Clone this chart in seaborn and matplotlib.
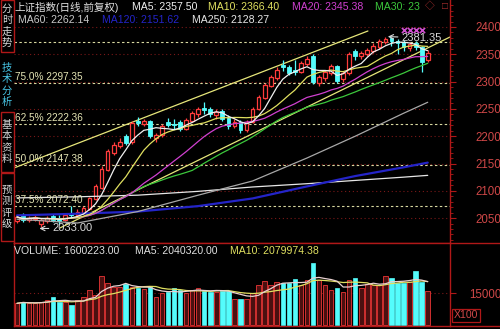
import numpy as np
import pandas as pd
import matplotlib
matplotlib.use("Agg")
import matplotlib.pyplot as plt
import seaborn as sns
from matplotlib.patches import Rectangle

# ---------------- data ----------------
opens = [2044, 2056, 2046, 2048, 2040, 2045, 2054, 2050, 2046, 2060,
         2056, 2060, 2066, 2085, 2106, 2138, 2170, 2182, 2200, 2190,
         2228, 2222, 2228, 2196, 2202, 2226, 2222, 2226, 2214, 2228,
         2240, 2252, 2250, 2238, 2246, 2234, 2218, 2226, 2212, 2226,
         2250, 2270, 2292, 2306, 2330, 2326, 2322, 2318, 2332, 2346,
         2298, 2306, 2316, 2328, 2304, 2316, 2356, 2346, 2350, 2356,
         2364, 2372, 2380, 2374, 2372, 2362, 2370, 2364, 2340]
closes = [2052, 2046, 2050, 2052, 2046, 2050, 2046, 2045, 2056, 2056,
          2062, 2068, 2086, 2108, 2140, 2172, 2184, 2190, 2188, 2224,
          2224, 2228, 2200, 2202, 2218, 2220, 2220, 2214, 2230, 2242,
          2250, 2248, 2240, 2244, 2232, 2218, 2226, 2212, 2226, 2250,
          2272, 2294, 2308, 2322, 2326, 2316, 2318, 2334, 2342, 2300,
          2308, 2318, 2328, 2302, 2316, 2350, 2346, 2352, 2358, 2366,
          2374, 2378, 2374, 2370, 2364, 2368, 2364, 2335, 2352]
highs = [2056, 2060, 2054, 2056, 2050, 2053, 2058, 2056, 2060, 2072,
         2066, 2072, 2089, 2112, 2145, 2176, 2190, 2196, 2204, 2228,
         2236, 2232, 2230, 2206, 2222, 2234, 2232, 2230, 2234, 2246,
         2254, 2262, 2254, 2250, 2250, 2238, 2232, 2230, 2230, 2254,
         2276, 2298, 2313, 2326, 2340, 2330, 2340, 2338, 2346, 2350,
         2312, 2322, 2332, 2330, 2320, 2354, 2360, 2356, 2362, 2370,
         2378, 2381.35, 2381, 2378, 2376, 2372, 2374, 2366, 2358]
lows = [2041, 2043, 2043, 2044, 2033, 2041, 2042, 2040, 2044, 2052,
        2053, 2058, 2064, 2083, 2104, 2136, 2166, 2178, 2184, 2186,
        2218, 2218, 2196, 2190, 2198, 2216, 2214, 2210, 2212, 2226,
        2236, 2240, 2236, 2232, 2228, 2214, 2215, 2206, 2208, 2224,
        2248, 2268, 2290, 2303, 2320, 2312, 2312, 2315, 2328, 2296,
        2292, 2302, 2312, 2298, 2300, 2312, 2340, 2342, 2346, 2352,
        2360, 2368, 2366, 2350, 2356, 2356, 2358, 2317, 2336]
volumes = [10170, 10940, 10170, 10170, 10940, 11720, 13280, 10940, 10940, 9375,
           11720, 13280, 16400, 14060, 22970, 19530, 17970, 17970, 19060, 17970,
           17190, 16720, 17660, 13280, 14840, 15620, 17190, 16400, 14840, 16400,
           17190, 16090, 15620, 15620, 16090, 16090, 12030, 12030, 12030, 14840,
           18750, 20620, 18750, 20310, 19530, 19530, 21410, 18750, 21090, 29220,
           21090, 18750, 16400, 17190, 15620, 21090, 21870, 17190, 19060, 18750,
           18750, 22970, 21870, 19530, 19530, 20310, 25500, 20310, 16002]

# long moving averages read at sample candles
ma_sample_idx = [0, 10, 20, 30, 39, 48, 56, 64, 68]
ma60_vals = [2048, 2041, 2062, 2092, 2118, 2160, 2200, 2242, 2262.14]
ma120_vals = [2055, 2058, 2062, 2072, 2086, 2108, 2127, 2143, 2151.62]
ma250_vals = [2087, 2089, 2092, 2099, 2107, 2113, 2119, 2125, 2128.27]

fib_levels = [2072.40, 2147.38, 2222.36, 2297.35, 2372.33]
fib_labels = ["37.5% 2072.40", "50.0% 2147.38", "62.5% 2222.36", "75.0% 2297.35", ""]

price_ticks = [2050, 2100, 2150, 2200, 2250, 2300, 2350, 2400]
vol_ticks = [15000]

upper_channel_idx = [-0.5, 58.1]
upper_channel_val = [2141.8, 2392.7]
lower_channel_idx = [7.1, 71.7]
lower_channel_val = [2031.9, 2381.7]

signal_idx = [64, 65, 66, 67]
signal_level = 2394

high_idx, high_val = 61, 2381.35
low_idx, low_val = 4, 2033.00

# ---------------- style ----------------
sns.set_theme(style="dark", rc={"axes.facecolor": "black", "figure.facecolor": "black"})
plt.rcParams["font.family"] = ["Liberation Sans", "Noto Sans CJK SC", "DejaVu Sans"]

RED = "#ff3c3c"
CYAN = "#54fcfc"
SPINE = "#b01818"
LABEL_RED = "#d04848"
GRID_RED = "#7a1818"

W, H = 500, 329
fig = plt.figure(figsize=(5, 3.29), dpi=100, facecolor="black")
ax = fig.add_axes([14 / W, 1 - 243 / H, 436 / W, 243 / H])
axv = fig.add_axes([14 / W, 1 - 326 / H, 436 / W, 83 / H])

o = np.array(opens, float); c = np.array(closes, float)
h = np.array(highs, float); l = np.array(lows, float)
v = np.array(volumes, float)
idx = np.arange(len(c))
up = c >= o

xmin, xmax = -0.497, 71.69

# ---------------- price panel ----------------
for a in (ax, axv):
    a.set_facecolor("black")
    a.set_xlim(xmin, xmax)
    a.set_xticks([])
    for s in a.spines.values():
        s.set_color(SPINE)
        s.set_linewidth(1.0)
ax.spines["left"].set_visible(False)
ax.spines["top"].set_visible(False)

ax.set_ylim(2004.4, 2449.45)
for t in price_ticks:
    ax.axhline(t, color=GRID_RED, lw=0.8, ls=(0, (1, 2.5)), zorder=0.5)
for lev, lab in zip(fib_levels, fib_labels):
    ax.axhline(lev, color="#d8d8a0", lw=0.8, ls=(0, (2.2, 2.2)), zorder=0.6)
    if lab:
        ax.annotate(lab, xy=(0.003, lev), xycoords=("axes fraction", "data"),
                    xytext=(0, 0.5), textcoords="offset points", va="bottom", ha="left",
                    color="#e4e4b4", fontsize=7.2, zorder=6)

# trend channel
sns.lineplot(x=upper_channel_idx, y=upper_channel_val, ax=ax, color="#e6e67a", lw=0.9, zorder=2, legend=False)
sns.lineplot(x=lower_channel_idx, y=lower_channel_val, ax=ax, color="#e6e67a", lw=0.9, zorder=2, legend=False)

# candles
ax.vlines(idx[up], l[up], h[up], color=RED, lw=0.9, zorder=3)
ax.vlines(idx[~up], l[~up], h[~up], color=CYAN, lw=0.9, zorder=3)
body = np.where(np.abs(c - o) < 0.8, 0.8, c - o)
ax.bar(idx[up], body[up], bottom=o[up], width=0.62, facecolor="black", edgecolor=RED, lw=0.9, zorder=4)
ax.bar(idx[~up], body[~up], bottom=o[~up], width=0.62, facecolor=CYAN, edgecolor=CYAN, lw=0.6, zorder=4)

# moving averages
cs = pd.Series(c)
ma = {n: cs.rolling(n, min_periods=1).mean() for n in (5, 10, 20, 30)}
sns.lineplot(x=ma_sample_idx, y=ma250_vals, ax=ax, color="#e6e6e6", lw=0.9, zorder=5, legend=False)
sns.lineplot(x=ma_sample_idx, y=ma120_vals, ax=ax, color="#2424c8", lw=1.6, zorder=5, legend=False)
sns.lineplot(x=ma_sample_idx, y=ma60_vals, ax=ax, color="#a8a8a8", lw=0.9, zorder=5, legend=False)
sns.lineplot(x=idx, y=ma[30], ax=ax, color="#3cc83c", lw=0.9, zorder=5, legend=False)
sns.lineplot(x=idx, y=ma[20], ax=ax, color="#d040d0", lw=0.9, zorder=5, legend=False)
sns.lineplot(x=idx, y=ma[10], ax=ax, color="#e0e060", lw=0.9, zorder=5, legend=False)
sns.lineplot(x=idx, y=ma[5], ax=ax, color="#f0f0f0", lw=0.9, zorder=5, legend=False)

# signal marks
ax.scatter(signal_idx, [signal_level] * len(signal_idx), marker="x", s=14, color="#d050d0", lw=1.2, zorder=6)

# high / low annotations
ax.annotate(f"{high_val:.2f}", xy=(high_idx + 0.4, high_val + 1), xytext=(high_idx + 2.6, high_val - 1),
            color="#d8d8d8", fontsize=8, va="center", ha="left", zorder=7,
            arrowprops=dict(arrowstyle="->", color="#d8d8d8", lw=0.8, shrinkA=0, shrinkB=0))
ax.annotate(f"{low_val:.2f}", xy=(low_idx - 0.3, low_val - 2), xytext=(low_idx + 1.8, low_val - 2),
            color="#d8d8d8", fontsize=8, va="center", ha="left", zorder=7,
            arrowprops=dict(arrowstyle="->", color="#d8d8d8", lw=0.8, shrinkA=0, shrinkB=0))

ax.yaxis.tick_right()
ax.set_yticks(price_ticks)
ax.set_yticks(np.arange(2010, 2450, 10), minor=True)
ax.tick_params(axis="y", which="major", colors=SPINE, labelcolor=LABEL_RED, length=4, width=0.8,
               pad=33, labelsize=8.3, right=True, left=False)
ax.tick_params(axis="y", which="minor", colors=SPINE, length=2, width=0.6, right=True, left=False)
for lab in ax.get_yticklabels():
    lab.set_horizontalalignment("right")
ax.set_xlabel("")
ax.set_ylabel("")
ax.grid(False)

# ---------------- volume panel ----------------
axv.set_ylim(-469, 38440)
axv.axhline(vol_ticks[0], color=GRID_RED, lw=0.8, ls=(0, (1, 2.5)), zorder=0.5)
axv.bar(idx[up], v[up], width=0.74, facecolor="#4a1010", edgecolor="#d03030", lw=0.7, zorder=2)
axv.bar(idx[~up], v[~up], width=0.74, facecolor=CYAN, edgecolor=CYAN, lw=0.5, zorder=2)
vs = pd.Series(v)
sns.lineplot(x=idx, y=vs.rolling(10, min_periods=1).mean(), ax=axv, color="#e0e060", lw=0.9, zorder=3, legend=False)
sns.lineplot(x=idx, y=vs.rolling(5, min_periods=1).mean(), ax=axv, color="#e8d0d0", lw=0.9, zorder=3, legend=False)
axv.yaxis.tick_right()
axv.set_yticks(vol_ticks)
axv.set_yticklabels([str(t) for t in vol_ticks])
axv.tick_params(axis="y", colors=SPINE, labelcolor=LABEL_RED, length=4, width=0.8, pad=33,
                labelsize=8.3, right=True, left=False)
for lab in axv.get_yticklabels():
    lab.set_horizontalalignment("right")
axv.set_xlabel("")
axv.set_ylabel("")
axv.grid(False)

# ---------------- overlay: titles, sidebar, frame pieces ----------------
ov = fig.add_axes([0, 0, 1, 1])
ov.set_xlim(0, W)
ov.set_ylim(H, 0)
ov.axis("off")

fs = 7.6
ov.text(14, 7, "上证指数(日线,前复权)", color="#e0e0e0", fontsize=fs, va="center", ha="left")
ov.text(132, 7, "MA5: 2357.50", color="#f0f0f0", fontsize=fs, va="center")
ov.text(208, 7, "MA10: 2366.40", color="#e0e060", fontsize=fs, va="center")
ov.text(292, 7, "MA20: 2345.38", color="#d040d0", fontsize=fs, va="center")
ov.text(375, 7, "MA30: 23", color="#3cc83c", fontsize=fs, va="center")
ov.text(430, 6, "◇", color="#b03030", fontsize=7, va="center", ha="center")
ov.text(445, 6, "□", color="#b03030", fontsize=7, va="center", ha="center")
ov.text(18, 20, "MA60: 2262.14", color="#c8c8c8", fontsize=fs, va="center")
ov.text(102, 20, "MA120: 2151.62", color="#2424c8", fontsize=fs, va="center")
ov.text(192, 20, "MA250: 2128.27", color="#e6e6e6", fontsize=fs, va="center")

ov.text(14, 251, "VOLUME: 1600223.00", color="#e0e0e0", fontsize=fs, va="center")
ov.text(135, 251, "MA5: 2040320.00", color="#e0e0e0", fontsize=fs, va="center")
ov.text(230, 251, "MA10: 2079974.38", color="#e0e060", fontsize=fs, va="center")

ov.text(466, 315.5, "X100", color=LABEL_RED, fontsize=7.6, va="center", ha="center")
ov.add_patch(Rectangle((452, 309), 28, 13, fill=False, edgecolor=SPINE, lw=0.9))

# frame extensions into the right label column
ov.plot([450, 500], [243, 243], color=SPINE, lw=1.0)
ov.plot([450, 500], [325.5, 325.5], color=SPINE, lw=1.0)

# sidebar tabs
tabs = [("分时走势", 0, 52, "#d8d8d8", True),
        ("技术分析", 58, 54, "#48c8e8", False),
        ("基本资料", 112, 60, "#d8d8d8", True),
        ("预测评级", 173, 68, "#d8d8d8", True)]
for label, top, height, col, boxed in tabs:
    if boxed:
        ov.add_patch(Rectangle((0.5, top), 13, height, fill=False, edgecolor=SPINE, lw=1.0))
    step = min(11.5, (height - 4) / 4)
    y0 = top + height / 2 - 1.5 * step
    for k, ch in enumerate(label):
        ov.text(7, y0 + k * step, ch, color=col, fontsize=7.4, ha="center", va="center")
ov.plot([13.5, 13.5], [241, 243], color=SPINE, lw=1.0)

fig.savefig("out.png", dpi=100, facecolor="black")
